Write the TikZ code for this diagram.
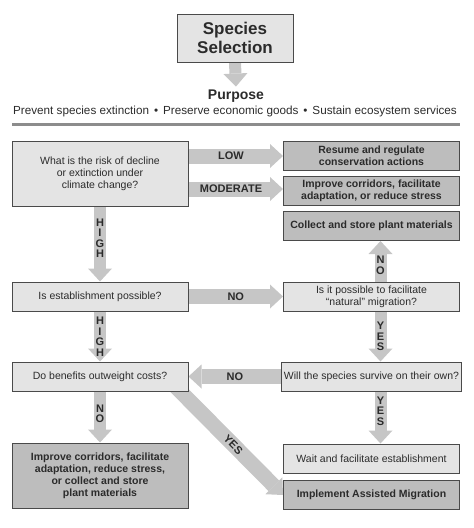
\documentclass[tikz,border=0pt]{standalone}
\usepackage{fontspec}
\setmainfont{Liberation Sans}
\usetikzlibrary{arrows.meta,backgrounds}
\definecolor{boxlight}{HTML}{E4E4E4}
\definecolor{boxdark}{HTML}{BDBDBD}
\definecolor{edge}{HTML}{4A4A4A}
\definecolor{fatgray}{HTML}{C6C6C6}
\definecolor{rulegray}{HTML}{8C8C8C}
\definecolor{ink}{HTML}{2B2B2B}
\tikzset{
  box/.style={draw=edge, line width=1pt, fill=boxlight, minimum width=176pt, minimum height=29pt,
    align=center, text=ink, inner sep=2pt, font=\fontsize{10.5}{12}\selectfont},
  darkbox/.style={box, fill=boxdark, font=\fontsize{10.5}{12}\selectfont\bfseries},
  fat/.style={draw=fatgray, line width=15pt, -{Triangle[width=24pt,length=13pt,line width=0pt]}},
  fatv/.style={fat, line width=12pt},
  lbl/.style={text=ink, align=center, inner sep=0pt, font=\fontsize{11}{10.5}\selectfont\bfseries},
}
\begin{document}
\begin{tikzpicture}[x=1pt,y=-1pt]
\useasboundingbox (0,0) rectangle (474,528);
\node[box, minimum width=116pt, minimum height=48pt, font=\fontsize{17}{18.5}\selectfont\bfseries] (sel) at (235,38) {Species\\Selection};
\node[text=ink, inner sep=0pt, font=\fontsize{14}{14}\selectfont\bfseries] (purp) at (236,96) {Purpose};
\node[text=ink, inner sep=0pt, font=\fontsize{11.7}{13}\selectfont] (goals) at (235,111) {Prevent species extinction\hspace{5pt}\textbullet\hspace{5pt}Preserve economic goods\hspace{5pt}\textbullet\hspace{5pt}Sustain ecosystem services};
\coordinate (ruleL) at (12,124);
\coordinate (ruleR) at (460,124);
\draw[line width=3pt, draw=rulegray] (ruleL) -- (ruleR);

\node[box, minimum height=65pt] (risk) at (100,173.5) {What is the risk of decline\\or extinction under\\climate change?};
\node[darkbox] (low) at (371.5,156) {Resume and regulate\\conservation actions};
\node[darkbox] (moderate) at (371.5,191) {Improve corridors, facilitate\\adaptation, or reduce stress};
\node[darkbox] (collect) at (371.5,226) {Collect and store plant materials};
\node[box] (estab) at (100,296.5) {Is establishment possible?};
\node[box] (natural) at (371.5,296.5) {Is it possible to facilitate\\“natural” migration?};
\node[box] (benefits) at (100,376.5) {Do benefits outweight costs?};
\node[box] (survive) at (371.5,376.5) {Will the species survive on their own?};
\node[darkbox, minimum height=65pt] (improve) at (100,475.5) {Improve corridors, facilitate\\adaptation, reduce stress,\\or collect and store\\plant materials};
\node[box] (wait) at (371.5,458.5) {Wait and facilitate establishment};
\node[darkbox] (assisted) at (371.5,495) {Implement Assisted Migration};

\begin{scope}[on background layer]
\draw[fatv] (sel.south) -- ([yshift=3pt]purp.north);
\draw[fat] (low.west -| risk.east) -- node[lbl,pos=0.45]{LOW} (low.west);
\draw[fat] ([yshift=2pt]moderate.west -| risk.east) -- node[lbl,pos=0.45]{MODERATE} ([yshift=2pt]moderate.west);
\draw[fatv] (risk.south) -- node[lbl,pos=0.42]{H\\I\\G\\H} (estab.north);
\draw[fat] (estab.east) -- node[lbl]{NO} (natural.west);
\draw[fatv] ([xshift=9pt]natural.north) -- node[lbl,pos=0.4]{N\\O} ([xshift=9pt]collect.south);
\draw[fatv] (estab.south) -- node[lbl]{H\\I\\G\\H} (benefits.north);
\draw[fatv] ([xshift=9pt]natural.south) -- node[lbl]{Y\\E\\S} ([xshift=9pt]survive.north);
\draw[fat] (survive.west) -- node[lbl]{NO} (benefits.east);
\draw[fatv] (benefits.south) -- node[lbl,pos=0.44]{N\\O} (improve.north);
\draw[fatv] ([xshift=9pt]survive.south) -- node[lbl,pos=0.38]{Y\\E\\S} ([xshift=9pt]wait.north);
\draw[fat] ([xshift=-16pt,yshift=8pt]benefits.south east) -- node[lbl,sloped,pos=0.55]{YES} (assisted.west);
\end{scope}
\end{tikzpicture}
\end{document}
